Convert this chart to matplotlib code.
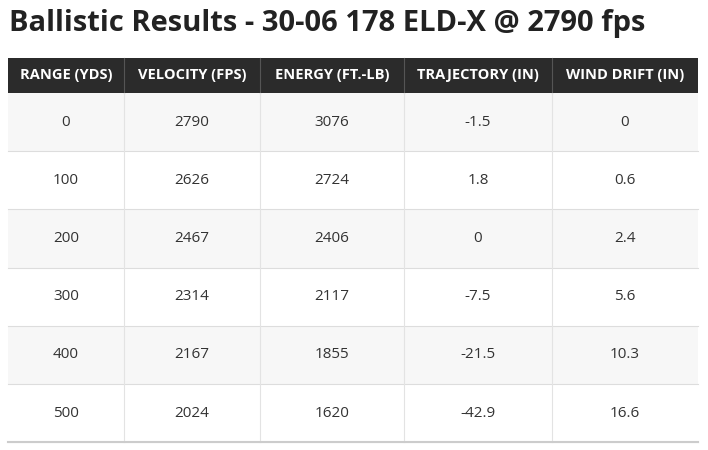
import matplotlib
matplotlib.use("Agg")
import matplotlib.pyplot as plt
from matplotlib.patches import Rectangle

title = "Ballistic Results - 30-06 178 ELD-X @ 2790 fps"
headers = ["RANGE (YDS)", "VELOCITY (FPS)", "ENERGY (FT.-LB)", "TRAJECTORY (IN)", "WIND DRIFT (IN)"]
range_yds = ["0", "100", "200", "300", "400", "500"]
velocity = ["2790", "2626", "2467", "2314", "2167", "2024"]
energy = ["3076", "2724", "2406", "2117", "1855", "1620"]
trajectory = ["-1.5", "1.8", "0", "-7.5", "-21.5", "-42.9"]
wind_drift = ["0", "0.6", "2.4", "5.6", "10.3", "16.6"]

cols = [range_yds, velocity, energy, trajectory, wind_drift]
xb = [8, 124, 260, 404, 552, 698]
head_top, head_bot = 58, 93
row_h = 58.2

fig = plt.figure(figsize=(7.08, 4.5), dpi=100)
ax = fig.add_axes([0, 0, 1, 1])
ax.set_xlim(0, 708)
ax.set_ylim(450, 0)
ax.axis("off")
font = "Open Sans"

ax.text(9, 23, title, fontsize=21, fontweight="bold", color="#222222",
        family=font, va="center", ha="left")

ax.add_patch(Rectangle((xb[0], head_top), xb[-1] - xb[0], head_bot - head_top,
                       facecolor="#2b2b2b", edgecolor="none"))
for j, h in enumerate(headers):
    ax.text((xb[j] + xb[j + 1]) / 2, (head_top + head_bot) / 2, h, color="white",
            fontsize=10.5, fontweight="bold", family=font, ha="center", va="center")
    if j > 0:
        ax.plot([xb[j]] * 2, [head_top, head_bot], color="#555555", lw=0.8)

nrows = len(range_yds)
for i in range(nrows):
    y0 = head_bot + i * row_h
    ax.add_patch(Rectangle((xb[0], y0), xb[-1] - xb[0], row_h,
                           facecolor="#f7f7f7" if i % 2 == 0 else "white",
                           edgecolor="none"))
    ax.plot([xb[0], xb[-1]], [y0 + row_h] * 2, color="#dddddd", lw=0.8)
    for j, c in enumerate(cols):
        ax.text((xb[j] + xb[j + 1]) / 2, y0 + row_h / 2, c[i], color="#333333",
                fontsize=11, family=font, ha="center", va="center")
bottom = head_bot + nrows * row_h
for x in xb[1:-1]:
    ax.plot([x, x], [head_bot, bottom], color="#e3e3e3", lw=0.8)
ax.plot([xb[0], xb[-1]], [bottom] * 2, color="#cccccc", lw=1.5)

fig.savefig("out.png", dpi=100)
